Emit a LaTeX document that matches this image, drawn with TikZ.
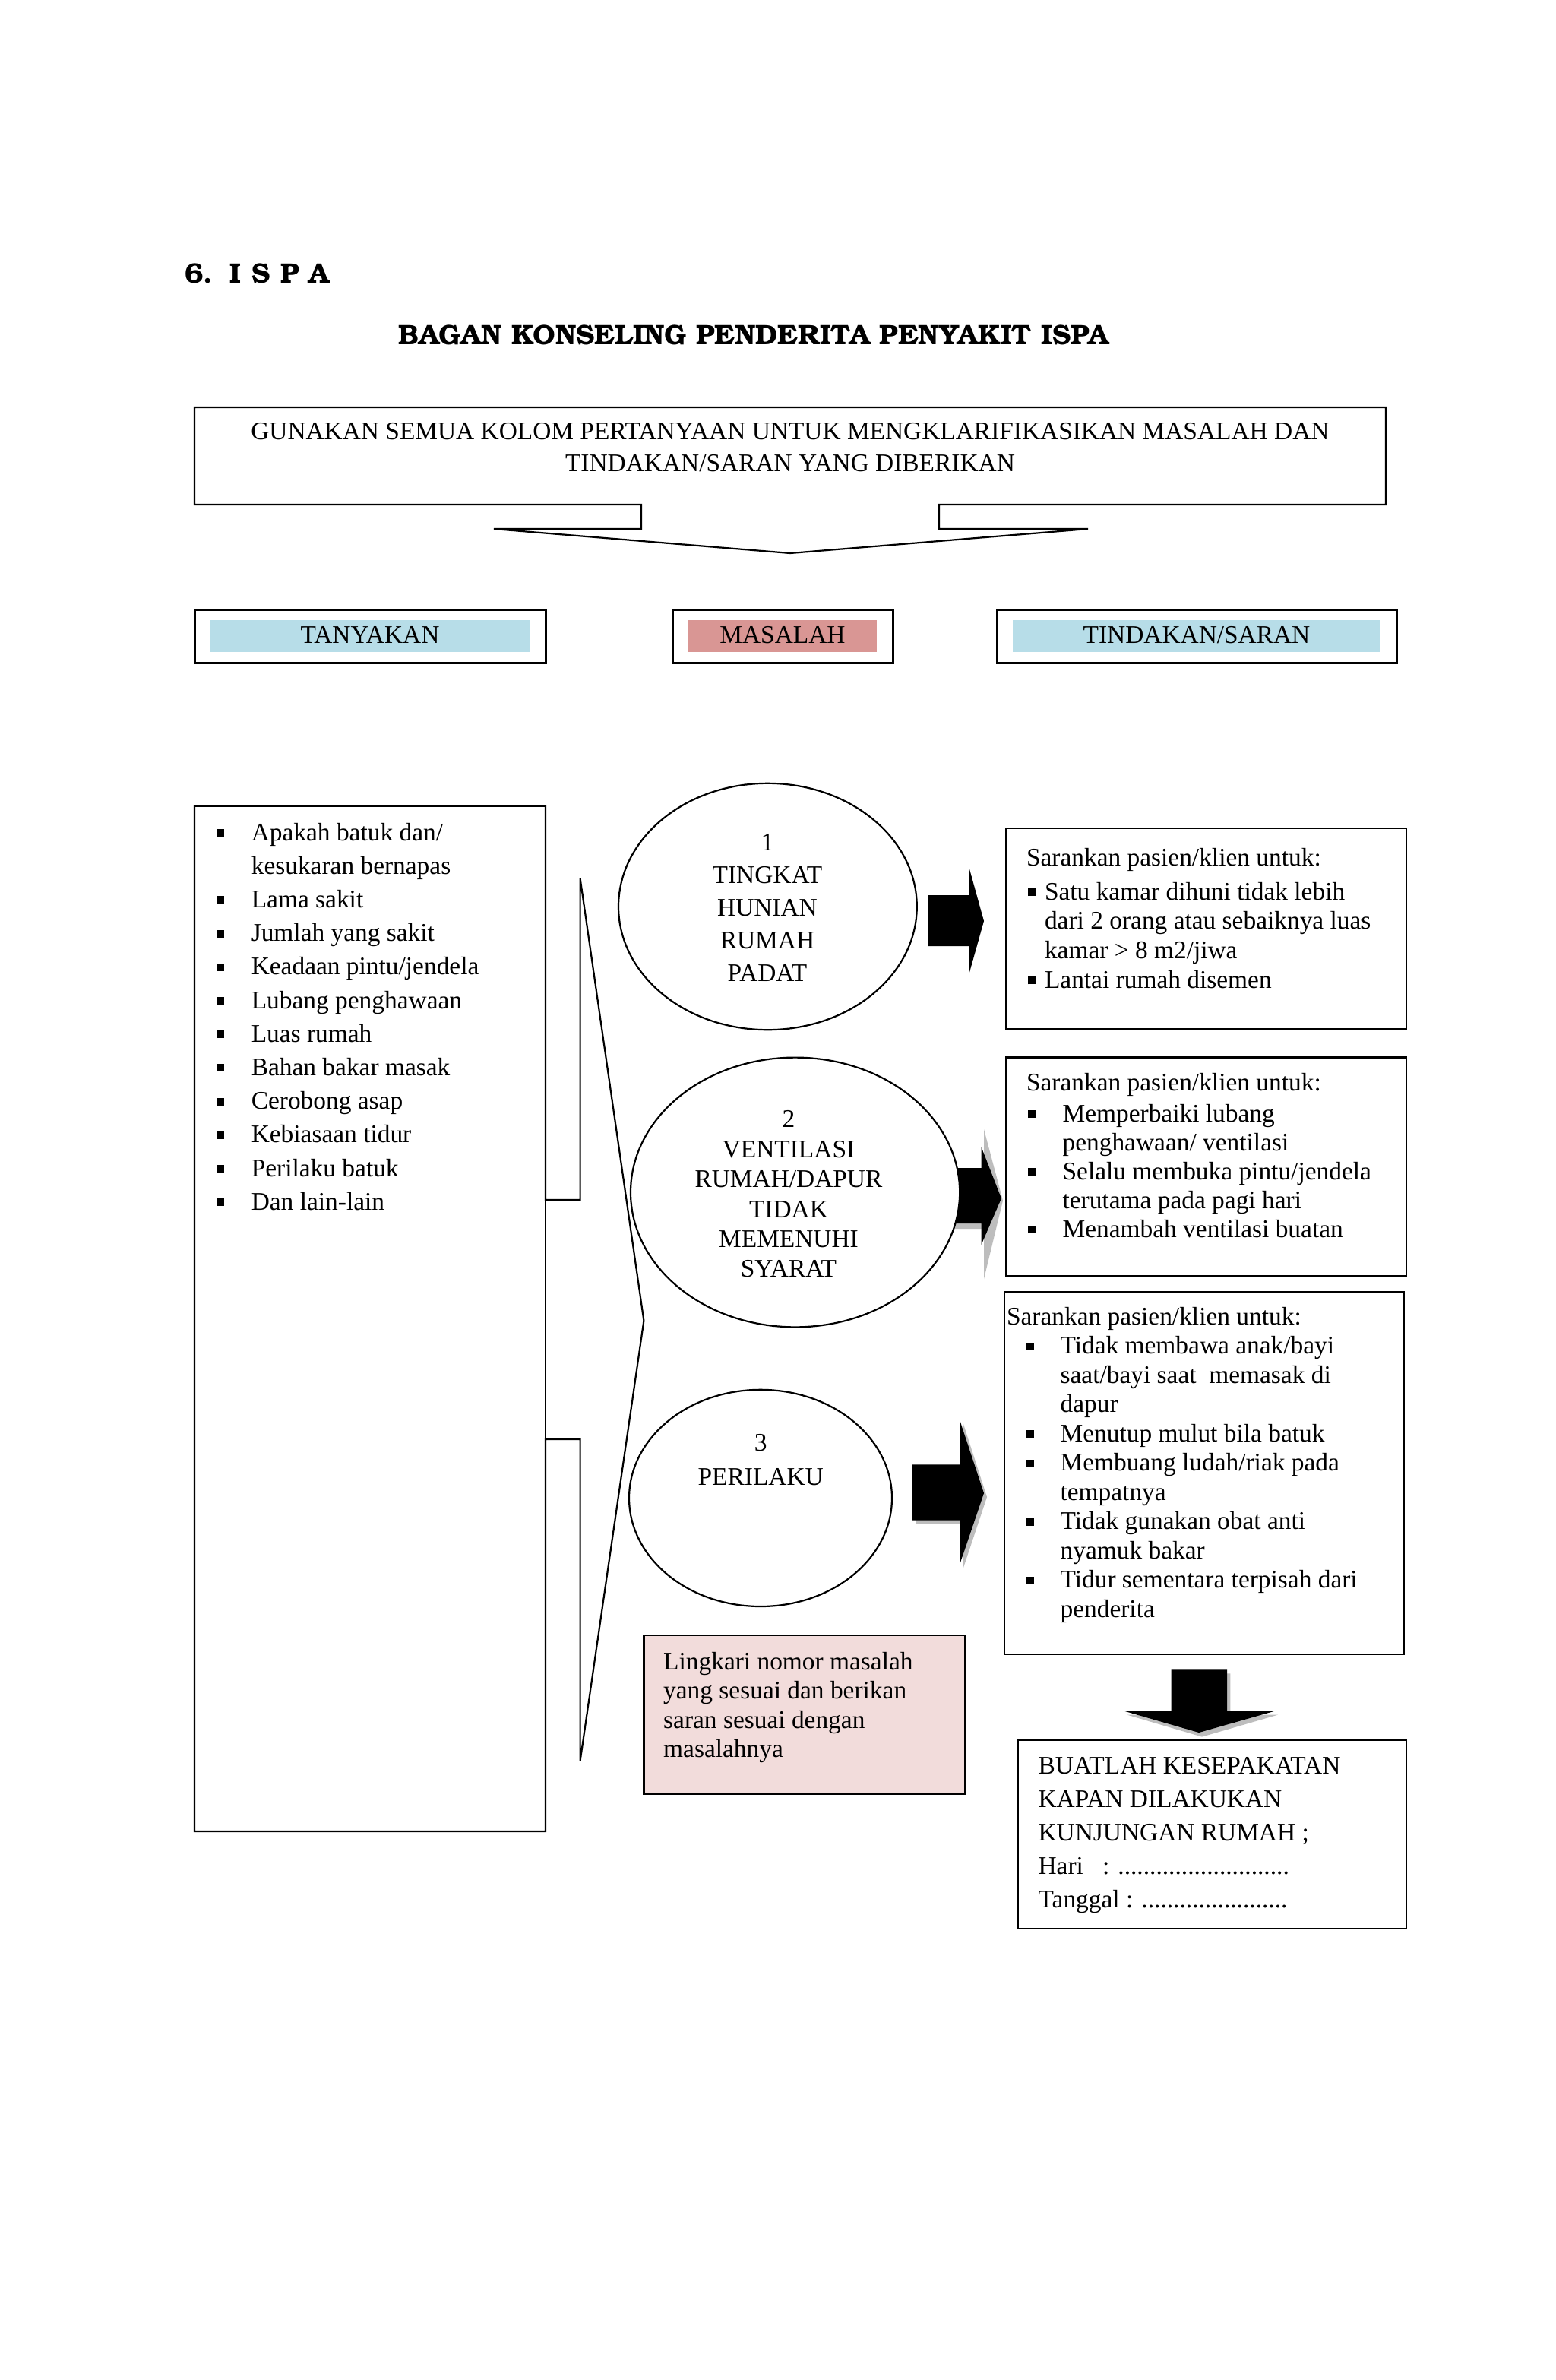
\documentclass[tikz,border=0pt]{standalone}
\usepackage{fontspec}
\setmainfont{Liberation Serif}
\newfontfamily\titlefont{TeX Gyre Bonum}
\usetikzlibrary{shapes.geometric}
\definecolor{hdrblue}{HTML}{B7DDE8}
\definecolor{hdrred}{HTML}{D99694}
\definecolor{notepink}{HTML}{F2DCDB}
\definecolor{shadowgray}{HTML}{BDBDBD}
\newcommand\bsq{\rule[2.5pt]{5pt}{5pt}}
\begin{document}
\begin{tikzpicture}[x=1pt,y=-1pt,
  every node/.style={inner sep=0pt, outer sep=0pt},
  txt/.style={font=\fontsize{16.7}{19.4}\selectfont, align=left, anchor=base west},
  ctxt/.style={font=\fontsize{16.7}{19.4}\selectfont, align=center, anchor=base},
  frame/.style={draw=black, line width=1.1pt},
  hdrframe/.style={draw=black, line width=1.5pt, fill=white},
  blockarrow/.style={fill=black, draw=none},
  arrowshadow/.style={fill=shadowgray, draw=none},
  oval/.style={ellipse, frame, fill=white},
  ttl/.style={font=\titlefont\bfseries\fontsize{18.5}{18.5}\selectfont, anchor=base west}
  ]
\path[use as bounding box, fill=white] (0,0) rectangle (1024,1566);

% titles (multi-line nodes below are anchored at the baseline of their LAST line)
\node[ttl] (num) at (121.7,186) {6.\hspace{11pt}I\hspace{7pt}S\hspace{7pt}P\hspace{6pt}A};
\node[ttl, anchor=base] (title) at (495.7,226.6) {BAGAN KONSELING PENDERITA PENYAKIT ISPA};

% intro callout
\draw[frame, fill=white] (128,268) -- (912,268) -- (912,332) -- (618,332) -- (618,348) -- (716,348)
  -- (520,364) -- (325,348) -- (422,348) -- (422,332) -- (128,332) -- cycle;
\node[ctxt, font=\fontsize{16.7}{21.2}\selectfont] (intro) at (520,310.2)
  {GUNAKAN SEMUA KOLOM PERTANYAAN UNTUK MENGKLARIFIKASIKAN MASALAH DAN\\TINDAKAN/SARAN YANG DIBERIKAN};

% header boxes
\draw[hdrframe] (128,401) rectangle (359,436);
\fill[hdrblue] (138.6,408) rectangle (348.8,429);
\node[ctxt] (tanya) at (243.5,423.3) {TANYAKAN};
\draw[hdrframe] (442.8,401) rectangle (587.5,436);
\fill[hdrred] (453,408) rectangle (577,429);
\node[ctxt] (masalah) at (515,423.3) {MASALAH};
\draw[hdrframe] (656,401) rectangle (919,436);
\fill[hdrblue] (666.5,408) rectangle (908.7,429);
\node[ctxt] (tindakan) at (787.5,423.3) {TINDAKAN/SARAN};

% left question box with callout wedge
\draw[frame, fill=white] (128,530.4) -- (359,530.4) -- (359,789.5) -- (381.8,789.5) -- (381.8,578)
  -- (423.7,869) -- (381.8,1158.6) -- (381.8,947) -- (359,947) -- (359,1205) -- (128,1205) -- cycle;
\draw[frame] (359,789.5) -- (359,947);
\node[txt, font=\fontsize{16.7}{22.1}\selectfont] (questions) at (142.4,796.1) {%
\makebox[23pt][l]{\bsq}Apakah batuk dan/\\
\hspace*{23pt}kesukaran bernapas\\
\makebox[23pt][l]{\bsq}Lama sakit\\
\makebox[23pt][l]{\bsq}Jumlah yang sakit\\
\makebox[23pt][l]{\bsq}Keadaan pintu/jendela\\
\makebox[23pt][l]{\bsq}Lubang penghawaan\\
\makebox[23pt][l]{\bsq}Luas rumah\\
\makebox[23pt][l]{\bsq}Bahan bakar masak\\
\makebox[23pt][l]{\bsq}Cerobong asap\\
\makebox[23pt][l]{\bsq}Kebiasaan tidur\\
\makebox[23pt][l]{\bsq}Perilaku batuk\\
\makebox[23pt][l]{\bsq}Dan lain-lain};

% block arrows (drawn before ovals)
\fill[blockarrow] (611,589) -- (637.5,589) -- (637.5,570) -- (647.5,606) -- (637.5,641.6)
  -- (637.5,622.5) -- (611,622.5) -- cycle;
\fill[arrowshadow] (600,772) -- (647.5,772) -- (647.5,743) -- (660,790) -- (647.5,841.5)
  -- (647.5,808.5) -- (600,808.5) -- cycle;
\fill[blockarrow] (600,768.5) -- (645.8,768.5) -- (645.8,754.7) -- (659,788.5) -- (645.8,819)
  -- (645.8,805) -- (600,805) -- cycle;
\fill[arrowshadow] (602.5,966) -- (634,966) -- (634,937) -- (649.5,985) -- (634,1031.5)
  -- (634,1002.5) -- (602.5,1002.5) -- cycle;
\fill[blockarrow] (600.5,963.7) -- (631.7,963.7) -- (631.7,934.7) -- (647.5,982.5) -- (631.7,1029)
  -- (631.7,1000.3) -- (600.5,1000.3) -- cycle;
\fill[arrowshadow] (773,1101.2) -- (809.7,1101.2) -- (809.7,1128.3) -- (841,1128.3) -- (791,1142.8)
  -- (741.7,1128.3) -- (773,1128.3) -- cycle;
\fill[blockarrow] (770.8,1098.7) -- (807.5,1098.7) -- (807.5,1125.8) -- (839,1125.8) -- (789,1140)
  -- (739.7,1125.8) -- (770.8,1125.8) -- cycle;

% problem ovals
\node[oval, minimum width=196.4pt, minimum height=162.2pt] (e1) at (505.2,596.5) {};
\node[oval, minimum width=216.6pt, minimum height=177.4pt] (e2) at (523.3,784.5) {};
\node[oval, minimum width=173pt, minimum height=142.6pt] (e3) at (500.5,985.7) {};
\node[ctxt, font=\fontsize{16.7}{21.5}\selectfont] (e1t) at (505,645.8) {1\\TINGKAT\\HUNIAN\\RUMAH\\PADAT};
\node[ctxt, font=\fontsize{16.7}{19.7}\selectfont] (e2t) at (519,840.4) {2\\VENTILASI\\RUMAH/DAPUR\\TIDAK\\MEMENUHI\\SYARAT};
\node[ctxt, font=\fontsize{16.7}{22.7}\selectfont] (e3t) at (500.6,977.4) {3\\PERILAKU};

% note box
\draw[frame, fill=notepink] (423.7,1076) rectangle (635,1180.5);
\node[txt, font=\fontsize{16.7}{19.2}\selectfont] (note) at (436.6,1156.3)
  {Lingkari nomor masalah\\yang sesuai dan berikan\\saran sesuai dengan\\masalahnya};

% advice boxes
\draw[frame, fill=white] (661.9,545) rectangle (925.3,677);
\node[txt, font=\fontsize{16.7}{19.4}\selectfont] (s1) at (675.5,650.2) {%
Sarankan pasien/klien untuk:\\[2.8pt]
\hspace*{1pt}\makebox[11pt][l]{\bsq}Satu kamar dihuni tidak lebih\\
\hspace*{12pt}dari 2 orang atau sebaiknya luas\\
\hspace*{12pt}kamar > 8 m2/jiwa\\
\hspace*{1pt}\makebox[11pt][l]{\bsq}Lantai rumah disemen};

\draw[frame, fill=white] (661.9,695.7) rectangle (925.3,839.7);
\node[txt, font=\fontsize{16.7}{19.0}\selectfont] (s2) at (675.5,814) {%
Sarankan pasien/klien untuk:\\[1.4pt]
\hspace*{1pt}\makebox[22.8pt][l]{\bsq}Memperbaiki lubang\\
\hspace*{23.8pt}penghawaan/ ventilasi\\
\hspace*{1pt}\makebox[22.8pt][l]{\bsq}Selalu membuka pintu/jendela\\
\hspace*{23.8pt}terutama pada pagi hari\\
\hspace*{1pt}\makebox[22.8pt][l]{\bsq}Menambah ventilasi buatan};

\draw[frame, fill=white] (660.8,850) rectangle (924,1088.6);
\node[txt, font=\fontsize{16.7}{19.24}\selectfont] (s3) at (662.5,1064) {%
Sarankan pasien/klien untuk:\\
\hspace*{13pt}\makebox[22.3pt][l]{\bsq}Tidak membawa anak/bayi\\
\hspace*{35.3pt}saat/bayi saat\ \ memasak di\\
\hspace*{35.3pt}dapur\\
\hspace*{13pt}\makebox[22.3pt][l]{\bsq}Menutup mulut bila batuk\\
\hspace*{13pt}\makebox[22.3pt][l]{\bsq}Membuang ludah/riak pada\\
\hspace*{35.3pt}tempatnya\\
\hspace*{13pt}\makebox[22.3pt][l]{\bsq}Tidak gunakan obat anti\\
\hspace*{35.3pt}nyamuk bakar\\
\hspace*{13pt}\makebox[22.3pt][l]{\bsq}Tidur sementara terpisah dari\\
\hspace*{35.3pt}penderita};

% agreement box
\draw[frame, fill=white] (670,1144.8) rectangle (925.3,1269);
\node[txt, font=\fontsize{16.7}{22.1}\selectfont] (agree) at (683.3,1255.4) {%
BUATLAH KESEPAKATAN\\
KAPAN DILAKUKAN\\
KUNJUNGAN RUMAH ;\\
Hari\ \ \ : ...........................\\
Tanggal : .......................};
\end{tikzpicture}
\end{document}
